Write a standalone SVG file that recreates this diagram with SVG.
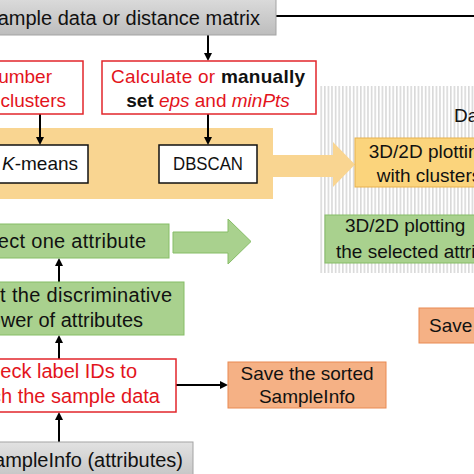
<svg xmlns="http://www.w3.org/2000/svg" width="474" height="474" viewBox="0 0 474 474">
<defs>
<linearGradient id="gray" x1="0" y1="0" x2="0" y2="1"><stop offset="0" stop-color="#e2e2e2"/><stop offset="1" stop-color="#bdbdbd"/></linearGradient>
<pattern id="stripes" width="3.6" height="10" patternUnits="userSpaceOnUse"><rect width="3.6" height="10" fill="#ffffff"/><rect width="1.6" height="10" fill="#d9d9d9"/></pattern>
<marker id="ah" viewBox="0 0 10 10" refX="7.5" refY="5" markerWidth="8" markerHeight="8" markerUnits="userSpaceOnUse" orient="auto"><path d="M0,0 L10,5 L0,10 z" fill="#000"/></marker>
<style>
text{font-family:"Liberation Sans",Arial,sans-serif;font-size:19px;fill:#111}
.red{fill:#e3141c}
.b{font-weight:bold;fill:#111}
.i{font-style:italic}
.graybox{fill:url(#gray);stroke:#a3a3a3;stroke-width:1}
.redbox{fill:#fff;stroke:#e2262b;stroke-width:1.5}
.whitebox{fill:#fff;stroke:#111;stroke-width:1.5}
.greenbox{fill:#a9d18e;stroke:#86bd66;stroke-width:1}
.yellowbox{fill:#fbd47c;stroke:#e8b14e;stroke-width:1}
.salmonbox{fill:#f5b185;stroke:#e98a52;stroke-width:1}
.conn{stroke:#000;stroke-width:2;fill:none}
</style>
</defs>
<rect width="474" height="474" fill="#fff"/>
<g id="dataviz-region">
<rect x="320" y="86" width="160" height="187" fill="url(#stripes)"/>
<text x="454" y="122">Data</text>
</g>
<g id="clustering-band">
<path d="M-10,128 H273 V155 H333 V142 L355,164.5 L333,187 V177 H273 V199 H-10 Z" fill="#f9d591"/>
</g>
<g id="green-arrow">
<path d="M173,232 H228 V219 L251,241.5 L228,264 V253 H173 Z" fill="#a9d18e" stroke="#86bd66" stroke-width="1"/>
</g>
<g id="connectors">
<path class="conn" d="M276,16 H480"/>
<path class="conn" d="M208,35 V59" marker-end="url(#ah)"/>
<path class="conn" d="M40,114 V143" marker-end="url(#ah)"/>
<path class="conn" d="M208,114 V143" marker-end="url(#ah)"/>
<path class="conn" d="M59,282 V260" marker-end="url(#ah)"/>
<path class="conn" d="M59,359 V337" marker-end="url(#ah)"/>
<path class="conn" d="M176,385 H226" marker-end="url(#ah)"/>
<path class="conn" d="M59,442 V414" marker-end="url(#ah)"/>
</g>
<g id="sample-data">
<rect class="graybox" x="-20" y="-10" width="296" height="45"/>
<text x="260" y="25" text-anchor="end" style="font-size:20px">Sample data or distance matrix</text>
</g>
<g id="number-of-clusters">
<rect class="redbox" x="-20" y="61" width="103" height="53"/>
<text class="red" x="52" y="83" text-anchor="end">Number</text>
<text class="red" x="66" y="107" text-anchor="end">of clusters</text>
</g>
<g id="eps-minpts">
<rect class="redbox" x="102" y="61" width="214" height="53"/>
<text class="red" x="208" y="83" text-anchor="middle" textLength="194">Calculate or <tspan class="b">manually</tspan></text>
<text class="red" x="208" y="107" text-anchor="middle"><tspan class="b">set</tspan> <tspan class="i">eps</tspan> and <tspan class="i">minPts</tspan></text>
</g>
<g id="kmeans">
<rect class="whitebox" x="-20" y="145" width="108" height="38"/>
<text x="40" y="170" text-anchor="middle"><tspan class="i">K</tspan>-means</text>
</g>
<g id="dbscan">
<rect class="whitebox" x="159" y="145" width="98" height="38"/>
<text x="208" y="170" text-anchor="middle" textLength="70" lengthAdjust="spacingAndGlyphs">DBSCAN</text>
</g>
<g id="plot-clusters">
<rect class="yellowbox" x="355" y="138" width="140" height="49"/>
<text x="429" y="158" text-anchor="middle">3D/2D plotting</text>
<text x="429" y="182" text-anchor="middle">with clusters</text>
</g>
<g id="plot-attribute">
<rect class="greenbox" x="325" y="215" width="160" height="48"/>
<text x="345" y="232">3D/2D plotting</text>
<text x="336" y="258">the selected attribute</text>
</g>
<g id="save-right">
<rect class="salmonbox" x="419" y="308" width="70" height="35"/>
<text x="429" y="332">Save</text>
</g>
<g id="select-attribute">
<rect class="greenbox" x="-20" y="224" width="189" height="34"/>
<text x="146" y="248" text-anchor="end" style="font-size:20px" textLength="178">Select one attribute</text>
</g>
<g id="sort-power">
<rect class="greenbox" x="-20" y="282" width="204" height="53"/>
<text x="172" y="302" text-anchor="end" style="font-size:20px" textLength="204">Sort the discriminative</text>
<text x="143" y="327" text-anchor="end" style="font-size:20px">power of attributes</text>
</g>
<g id="check-ids">
<rect class="redbox" x="-20" y="359" width="196" height="53"/>
<text class="red" x="137" y="378" text-anchor="end" style="font-size:20px">Check label IDs to</text>
<text class="red" x="160" y="403" text-anchor="end" style="font-size:20px">match the sample data</text>
</g>
<g id="save-sorted">
<rect class="salmonbox" x="228" y="362" width="158" height="46"/>
<text x="307" y="380" text-anchor="middle">Save the sorted</text>
<text x="307" y="403" text-anchor="middle">SampleInfo</text>
</g>
<g id="sampleinfo">
<rect class="graybox" x="-20" y="442" width="213" height="45"/>
<text x="183" y="467" text-anchor="end" style="font-size:20px">SampleInfo (attributes)</text>
</g>
</svg>
